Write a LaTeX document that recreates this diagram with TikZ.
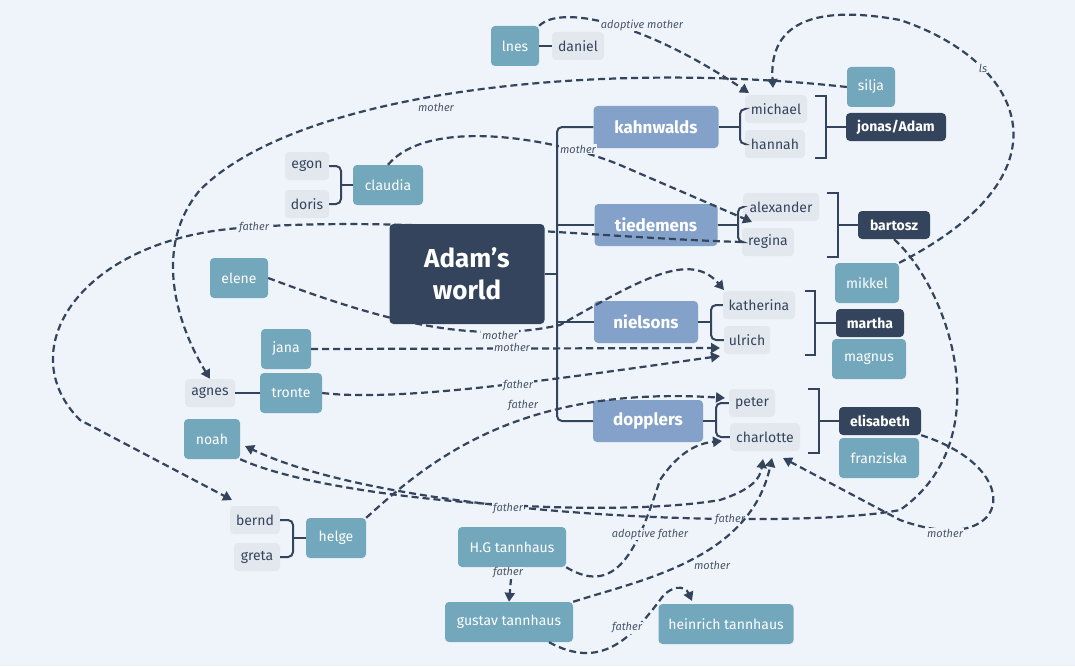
\documentclass[tikz,border=0pt]{standalone}
\usepackage{fontspec}
\setmainfont{Fira Sans}
\usetikzlibrary{arrows.meta}
\definecolor{bg}{HTML}{EEF4FA}
\definecolor{dk}{HTML}{34445C}
\definecolor{teal}{HTML}{72A7BC}
\definecolor{fam}{HTML}{84A2C9}
\definecolor{lg}{HTML}{E3E8EF}
\definecolor{lbl}{HTML}{4A5568}
\tikzset{
 base/.style={rounded corners=4pt,align=center,inner sep=0pt},
 tl/.style={base,fill=teal,text=white,minimum height=40pt,font=\fontsize{14}{16}\selectfont},
 fm/.style={base,fill=fam,text=white,minimum height=42pt,font=\bfseries\fontsize{17}{19}\selectfont},
 dn/.style={base,fill=dk,text=white,minimum height=28pt,font=\bfseries\fontsize{14}{16}\selectfont},
 gy/.style={base,fill=lg,text=dk,minimum height=28pt,font=\fontsize{14}{16}\selectfont},
 tree/.style={draw=dk,line width=2pt,rounded corners=5pt},
 rel/.style={draw=dk,line width=2.2pt,dash pattern=on 7pt off 4pt},
 arr/.style={rel,-{Triangle[length=9pt,width=10pt]}},
 lab/.style={fill=bg,inner sep=1pt,text=lbl,font=\itshape\fontsize{11}{12}\selectfont},
}
\begin{document}
\begin{tikzpicture}[x=1pt,y=-1pt]
\fill[bg] (0,0) rectangle (1075,666);
\useasboundingbox (0,0) rectangle (1075,666);
% nodes
\node[tl,minimum width=48pt] (ines) at (515,46) {lnes};
\node[gy,minimum width=52pt] (daniel) at (578,46) {daniel};
\node[tl,minimum width=48pt] (silja) at (871,87) {silja};
\node[dn,minimum width=100pt] (jonas) at (896,127) {jonas/Adam};
\node[fm,minimum width=125pt] (kahn) at (656,127) {kahnwalds};
\node[gy,minimum width=62pt] (michael) at (776,109) {michael};
\node[gy,minimum width=60pt] (hannah) at (775,144) {hannah};
\node[tl,minimum width=70pt] (claudia) at (388,185) {claudia};
\node[gy,minimum width=44pt] (egon) at (307,166) {egon};
\node[gy,minimum width=44pt] (doris) at (307,204) {doris};
\node[base,fill=dk,text=white,minimum width=155pt,minimum height=100pt,font=\bfseries\fontsize{26}{32}\selectfont] (adam) at (467,274) {Adam's\\world};
\node[fm,minimum width=123pt] (tied) at (656,225) {tiedemens};
\node[gy,minimum width=76pt] (alex) at (781,207) {alexander};
\node[gy,minimum width=52pt] (regina) at (768,242) {regina};
\node[dn,minimum width=72pt] (bartosz) at (894,225) {bartosz};
\node[tl,minimum width=58pt] (elene) at (239,278) {elene};
\node[tl,minimum width=64pt] (mikkel) at (867,283) {mikkel};
\node[fm,minimum width=104pt] (niel) at (646,322) {nielsons};
\node[gy,minimum width=72pt] (kath) at (759,305) {katherina};
\node[gy,minimum width=46pt] (ulrich) at (747,340) {ulrich};
\node[dn,minimum width=68pt] (martha) at (870,323) {martha};
\node[tl,minimum width=74pt] (magnus) at (869,359) {magnus};
\node[tl,minimum width=50pt] (jana) at (286,349) {jana};
\node[gy,minimum width=50pt] (agnes) at (210,393) {agnes};
\node[tl,minimum width=62pt] (tronte) at (291,393) {tronte};
\node[fm,minimum width=110pt] (dopp) at (648,421) {dopplers};
\node[gy,minimum width=46pt] (peter) at (752,403) {peter};
\node[gy,minimum width=70pt] (charlotte) at (765,437) {charlotte};
\node[dn,minimum width=82pt] (elis) at (880,421) {elisabeth};
\node[tl,minimum width=80pt] (franz) at (879,458) {franziska};
\node[tl,minimum width=56pt] (noah) at (212,439) {noah};
\node[gy,minimum width=50pt] (bernd) at (255,520) {bernd};
\node[gy,minimum width=46pt] (greta) at (257,557) {greta};
\node[tl,minimum width=60pt] (helge) at (336,538) {helge};
\node[tl,minimum width=108pt] (hg) at (512,547) {H.G tannhaus};
\node[tl,minimum width=128pt] (gustav) at (509,622) {gustav tannhaus};
\node[tl,minimum width=135pt] (heinrich) at (726,624) {heinrich tannhaus};
% tree lines
\draw[tree,rounded corners=0pt] (adam.east) -- (557,274);
\draw[tree] (kahn.west) -- (557,127) -- (557,421) -- (dopp.west);
\draw[tree] (tied.west) -- (557,225);
\draw[tree] (niel.west) -- (557,322);
\draw[tree,rounded corners=0pt] (ines.east) -- (daniel.west);
\draw[tree,rounded corners=0pt] (agnes.east) -- (tronte.west);
% brackets children
\draw[tree] (michael.west) -- (740,109) -- (740,144) -- (hannah.west);
\draw[tree,rounded corners=0pt] (kahn.east) -- (740,127);
\draw[tree] (alex.west) -- (738,207) -- (738,242) -- (regina.west);
\draw[tree,rounded corners=0pt] (tied.east) -- (738,225);
\draw[tree] (kath.west) -- (711,305) -- (711,340) -- (ulrich.west);
\draw[tree,rounded corners=0pt] (niel.east) -- (711,322);
\draw[tree] (peter.west) -- (716,403) -- (716,437) -- (charlotte.west);
\draw[tree,rounded corners=0pt] (dopp.east) -- (716,421);
\draw[tree] (egon.east) -- (341,166) -- (341,204) -- (doris.east);
\draw[tree,rounded corners=0pt] (claudia.west) -- (341,185);
\draw[tree] (bernd.east) -- (293,520) -- (293,557) -- (greta.east);
\draw[tree,rounded corners=0pt] (helge.west) -- (293,538);
% right brackets
\draw[tree,rounded corners=0pt] (815,96) -- (826,96) -- (826,158) -- (815,158) (826,127) -- (jonas.west);
\draw[tree,rounded corners=0pt] (827,193) -- (838,193) -- (838,257) -- (827,257) (838,225) -- (bartosz.west);
\draw[tree,rounded corners=0pt] (805,291) -- (815,291) -- (815,355) -- (805,355) (815,323) -- (martha.west);
\draw[tree,rounded corners=0pt] (808,389) -- (819,389) -- (819,453) -- (808,453) (819,421) -- (elis.west);
% relations
\draw[arr] (ines.north east) .. controls (560,5) and (640,20) .. (749,93);
\node[lab] at (642,25) {adoptive mother};
\draw[arr] (silja.west) .. controls (600,60) and (300,90) .. (200,190) .. controls (150,250) and (180,330) .. (agnes.north);
\node[lab] at (436,107) {mother};
\draw[arr] (mikkel.north east) .. controls (1080,170) and (1020,60) .. (900,20) .. controls (790,0) and (770,40) .. (773,88);
\node[lab] at (983,68) {ls};
\draw[arr] (claudia.north) .. controls (430,115) and (560,140) .. (620,165) -- (752,222);
\node[lab] at (578,149) {mother};
\draw[arr] (regina.west) .. controls (600,238) and (400,215) .. (240,228) .. controls (80,240) and (10,350) .. (80,420) -- (232,500);
\node[lab] at (254,228) {father};
\draw[arr] (elene.east) .. controls (380,320) and (470,345) .. (560,325) .. controls (640,280) and (690,250) .. (724,290);
\node[lab] at (500,335) {mother};
\draw[arr] (jana.east) -- (720,348);
\node[lab] at (512,347) {mother};
\draw[arr] (tronte.east) .. controls (400,402) and (550,380) .. (720,356);
\node[lab] at (518,386) {father};
\draw[arr] (helge.north east) .. controls (430,460) and (520,385) .. (725,398);
\node[lab] at (523,406) {father};
\draw[arr] (bartosz.south) .. controls (950,290) and (1000,440) .. (900,510) .. controls (800,530) and (400,520) .. (245,446);
\node[lab] at (730,520) {father};
\draw[arr] (noah.south east) .. controls (330,500) and (600,520) .. (720,500) .. controls (750,490) and (760,480) .. (763,459);
\node[lab] at (508,509) {father};
\draw[arr] (elis.south east) .. controls (1030,470) and (1010,560) .. (900,520) -- (783,458);
\node[lab] at (945,533) {mother};
\draw[arr] (hg.south east) .. controls (620,600) and (640,540) .. (660,480) .. controls (680,450) and (700,443) .. (722,441);
\node[lab] at (650,534) {adoptive father};
\draw[arr] (gustav.north east) .. controls (640,580) and (750,560) .. (772,458);
\node[lab] at (712,565) {mother};
\draw[arr] (hg.south) -- (gustav.north);
\node[lab] at (508,573) {father};
\draw[arr] (gustav.south) ++(40,0) .. controls (600,670) and (630,640) .. (660,600) .. controls (670,585) and (685,585) .. (692,601);
\node[lab] at (627,628) {father};
\end{tikzpicture}
\end{document}
